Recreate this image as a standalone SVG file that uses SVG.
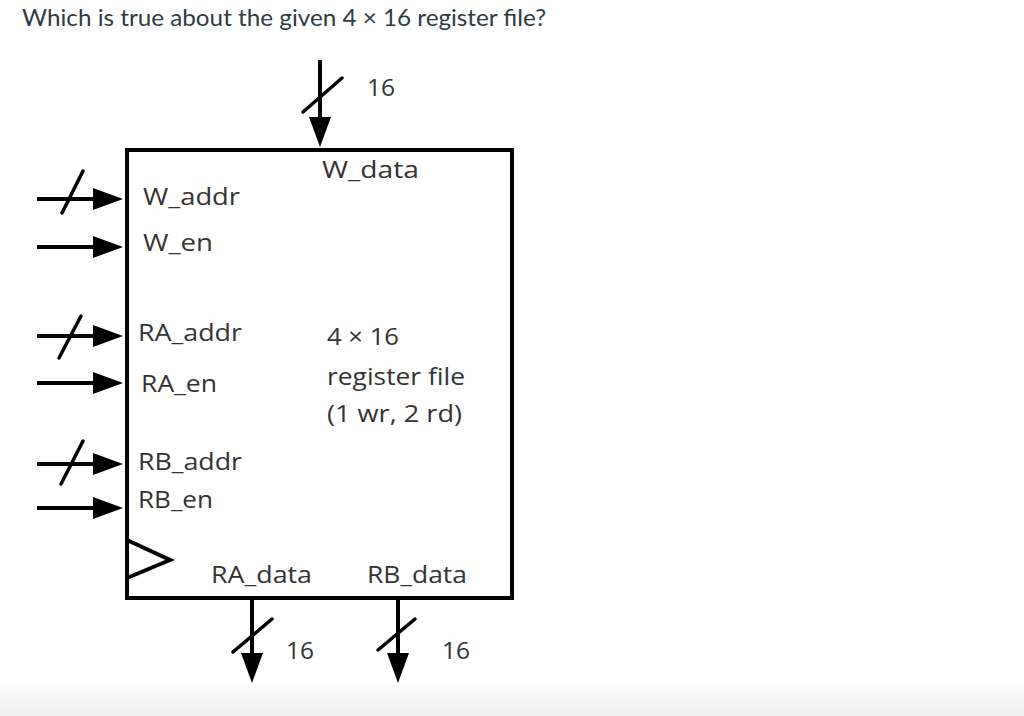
<svg xmlns="http://www.w3.org/2000/svg" width="1024" height="716" viewBox="0 0 1024 716">
  <defs>
    <linearGradient id="band" x1="0" y1="0" x2="0" y2="1">
      <stop offset="0" stop-color="#ffffff"/>
      <stop offset="1" stop-color="#efefef"/>
    </linearGradient>
    <marker id="arr" markerUnits="userSpaceOnUse" viewBox="0 0 30 22" refX="0" refY="11" markerWidth="30" markerHeight="22" orient="auto">
      <polygon points="0,0 30,11 0,22" fill="#000"/>
    </marker>
    <style>
      .t { font-family: "Open Sans", "Liberation Sans", sans-serif; font-size: 23px; fill: #333; }
      .title { font-family: Lato, "Liberation Sans", sans-serif; font-size: 24px; fill: #2d3b45; }
      .w { stroke: #000; stroke-width: 4; fill: none; }
      .s { stroke: #000; stroke-width: 3.5; fill: none; stroke-linecap: round; }
    </style>
  </defs>
  <rect x="0" y="0" width="1024" height="716" fill="#fff"/>
  <rect x="0" y="678" width="1024" height="38" fill="url(#band)"/>

  <text class="title" x="22" y="26" textLength="524" lengthAdjust="spacingAndGlyphs">Which is true about the given 4 × 16 register file?</text>

  <g id="regfile">
    <rect x="127" y="150" width="385" height="448" fill="none" stroke="#000" stroke-width="4"/>
    <polyline class="w" points="127,540 170,560 127,578"/>
    <text class="t" x="322" y="178" textLength="97" lengthAdjust="spacingAndGlyphs">W_data</text>
    <text class="t" x="143" y="205" textLength="97" lengthAdjust="spacingAndGlyphs">W_addr</text>
    <text class="t" x="143" y="251" textLength="70" lengthAdjust="spacingAndGlyphs">W_en</text>
    <text class="t" x="138" y="341" textLength="104" lengthAdjust="spacingAndGlyphs">RA_addr</text>
    <text class="t" x="141" y="392" textLength="76" lengthAdjust="spacingAndGlyphs">RA_en</text>
    <text class="t" x="138" y="470" textLength="104" lengthAdjust="spacingAndGlyphs">RB_addr</text>
    <text class="t" x="138" y="508" textLength="75" lengthAdjust="spacingAndGlyphs">RB_en</text>
    <text class="t" x="327" y="345" textLength="72" lengthAdjust="spacingAndGlyphs">4 × 16</text>
    <text class="t" x="327" y="385" textLength="138" lengthAdjust="spacingAndGlyphs">register file</text>
    <text class="t" x="327" y="422" textLength="135" lengthAdjust="spacingAndGlyphs">(1 wr, 2 rd)</text>
    <text class="t" x="211" y="583" textLength="101" lengthAdjust="spacingAndGlyphs">RA_data</text>
    <text class="t" x="367" y="583" textLength="100" lengthAdjust="spacingAndGlyphs">RB_data</text>
  </g>

  <g id="connectors">
    <line class="w" x1="37" y1="199" x2="93" y2="199" marker-end="url(#arr)"/>
    <line class="s" x1="62" y1="213" x2="83" y2="171"/>
    <line class="w" x1="37" y1="247" x2="93" y2="247" marker-end="url(#arr)"/>
    <line class="w" x1="37" y1="336" x2="93" y2="336" marker-end="url(#arr)"/>
    <line class="s" x1="59" y1="358" x2="81" y2="316"/>
    <line class="w" x1="37" y1="383" x2="93" y2="383" marker-end="url(#arr)"/>
    <line class="w" x1="37" y1="464" x2="93" y2="464" marker-end="url(#arr)"/>
    <line class="s" x1="61" y1="484" x2="83" y2="441"/>
    <line class="w" x1="37" y1="508" x2="93" y2="508" marker-end="url(#arr)"/>

    <line class="w" x1="320" y1="60" x2="320" y2="117" marker-end="url(#arr)"/>
    <line class="s" x1="303" y1="112" x2="342" y2="78"/>
    <text class="t" x="367" y="96" textLength="28" lengthAdjust="spacingAndGlyphs">16</text>

    <line class="w" x1="252" y1="598" x2="252" y2="653" marker-end="url(#arr)"/>
    <line class="s" x1="233" y1="652" x2="272" y2="619"/>
    <text class="t" x="286" y="659" textLength="28" lengthAdjust="spacingAndGlyphs">16</text>

    <line class="w" x1="398" y1="598" x2="398" y2="653" marker-end="url(#arr)"/>
    <line class="s" x1="378" y1="650" x2="415" y2="619"/>
    <text class="t" x="442" y="659" textLength="28" lengthAdjust="spacingAndGlyphs">16</text>
  </g>
</svg>
